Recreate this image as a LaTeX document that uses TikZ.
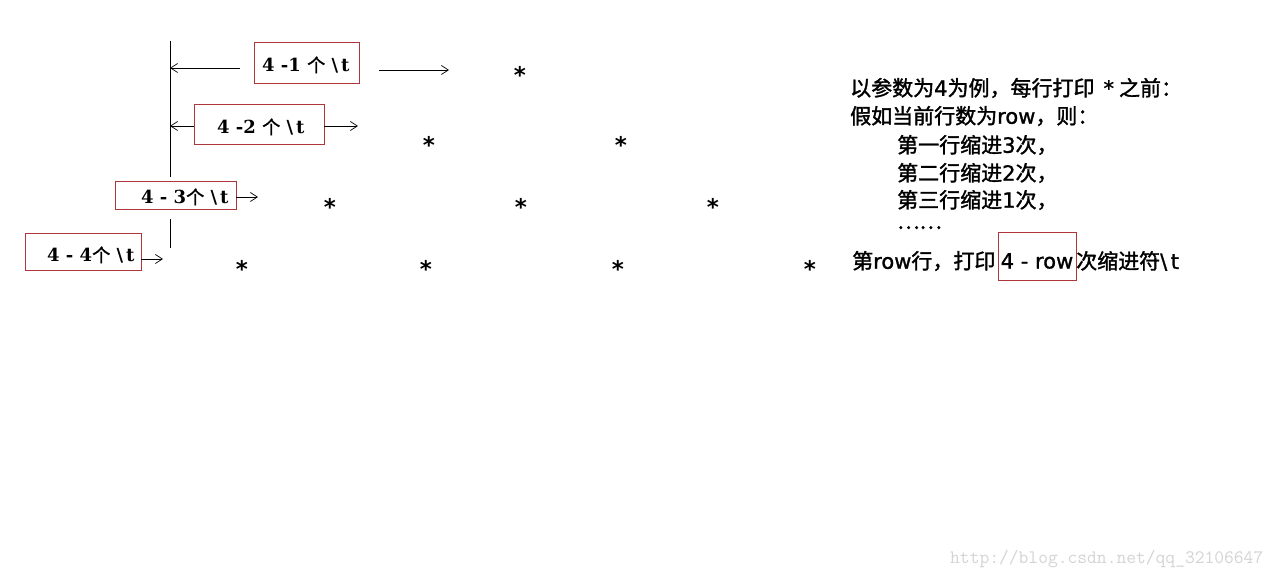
\documentclass[tikz,border=0pt]{standalone}
\usepackage{fontspec}
\setmainfont{DejaVu Sans}
\newfontfamily\cjk[FakeBold=1.6]{Noto Sans CJK SC}
\newfontfamily\lat[FakeBold=1.2]{DejaVu Sans}
\newfontfamily\boxlat{DejaVu Serif Bold}
\newfontfamily\starfont{DejaVu Sans Bold}
\usetikzlibrary{arrows.meta}
\definecolor{boxred}{RGB}{175,55,60}
\definecolor{wmgray}{RGB}{212,212,212}
\newcommand{\bs}{\textbackslash}
\begin{document}
\begin{tikzpicture}[x=1pt,y=-1pt,
  redbox/.style={draw=boxred,line width=0.9pt,inner sep=0pt},
  conn/.style={line width=0.7pt,-{Straight Barb[length=7pt,width=9pt]}},
  star/.style={font=\starfont\fontsize{23}{23}\selectfont,inner sep=0pt},
  txt/.style={anchor=west,font=\cjk\fontsize{21}{21}\selectfont,inner sep=0pt},
  boxtxt/.style={anchor=west,inner sep=0pt,font=\boxlat\fontsize{18}{18}\selectfont}]
\useasboundingbox (0,0) rectangle (1280,580);
\fill[white] (0,0) rectangle (1280,580);
% vertical line
\coordinate (vt) at (170,41);
\coordinate (vm) at (170,177);
\coordinate (vm2) at (170,219);
\coordinate (vb) at (170,248);
\draw[line width=0.8pt] (vt) -- (vm);
\draw[line width=0.8pt] (vm2) -- (vb);
% boxes
\node[redbox,minimum width=105pt,minimum height=41pt] (b1) at (306.5,62.5) {};
\node[boxtxt] (t1) at (262,65) {4 -1 {\cjk 个} \bs\,t};
\node[redbox,minimum width=130pt,minimum height=40pt] (b2) at (259,124) {};
\node[boxtxt] (t2) at (217,127) {4 -2 {\cjk 个} \bs\,t};
\node[redbox,minimum width=121pt,minimum height=28pt] (b3) at (175.5,195) {};
\node[boxtxt] (t3) at (141,197) {4 - 3{\cjk 个} \bs\,t};
\node[redbox,minimum width=116pt,minimum height=37pt] (b4) at (83,251.5) {};
\node[boxtxt] (t4) at (47,255) {4 - 4{\cjk 个} \bs\,t};
% arrows
\coordinate (a1l) at (240,68);
\coordinate (a1e) at (170,68);
\draw[conn] (a1l) -- (a1e);
\coordinate (a1r) at (379,70);
\coordinate (a1re) at (449,70);
\draw[conn] (a1r) -- (a1re);
\coordinate (a2e) at (170,126);
\draw[conn] (b2.west |- a2e) -- (a2e);
\coordinate (a2re) at (358,126);
\draw[conn] (b2.east |- a2re) -- (a2re);
\coordinate (a3re) at (258,197);
\draw[conn] (b3.east |- a3re) -- (a3re);
\coordinate (a4re) at (163,259);
\draw[conn] (b4.east |- a4re) -- (a4re);
% stars
\node[star] (s11) at (520,75) {*};
\node[star] (s21) at (429,145) {*};
\node[star] (s22) at (621,145) {*};
\node[star] (s31) at (330,207) {*};
\node[star] (s32) at (521,207) {*};
\node[star] (s33) at (713,207) {*};
\node[star] (s41) at (242,269) {*};
\node[star] (s42) at (426,269) {*};
\node[star] (s43) at (618,269) {*};
\node[star] (s44) at (810,269) {*};
% right text
\node[txt] (r1) at (850,88) {以参数为{\lat 4}为例，每行打印\hspace{9pt}{\lat *}\hspace{5pt}之前：};
\node[txt] (r2) at (850,116) {假如当前行数为{\lat row}，则：};
\node[txt] (r3) at (897,145) {第一行缩进{\lat 3}次，};
\node[txt] (r4) at (897,173) {第二行缩进{\lat 2}次，};
\node[txt] (r5) at (897,200) {第三行缩进{\lat 1}次，};
\node[txt,anchor=south west,text height=4pt,text depth=0pt] (r6) at (897,229) {……};
\node[txt] (r7) at (852,261) {第{\lat row}行，打印};
\node[redbox,minimum width=78pt,minimum height=48pt] (rb) at (1037,256) {};
\node[txt,anchor=center] (r7b) at (1037,261) {{\lat 4 - row}};
\node[txt] (r7c) at (1076,261) {次缩进符{\lat \bs\,t}};
% watermark
\node[anchor=west,inner sep=0pt,text=wmgray,font=\ttfamily\fontsize{19}{19}\selectfont] (wm) at (950,559) {http://blog.csdn.net/qq\_32106647};
\end{tikzpicture}
\end{document}
